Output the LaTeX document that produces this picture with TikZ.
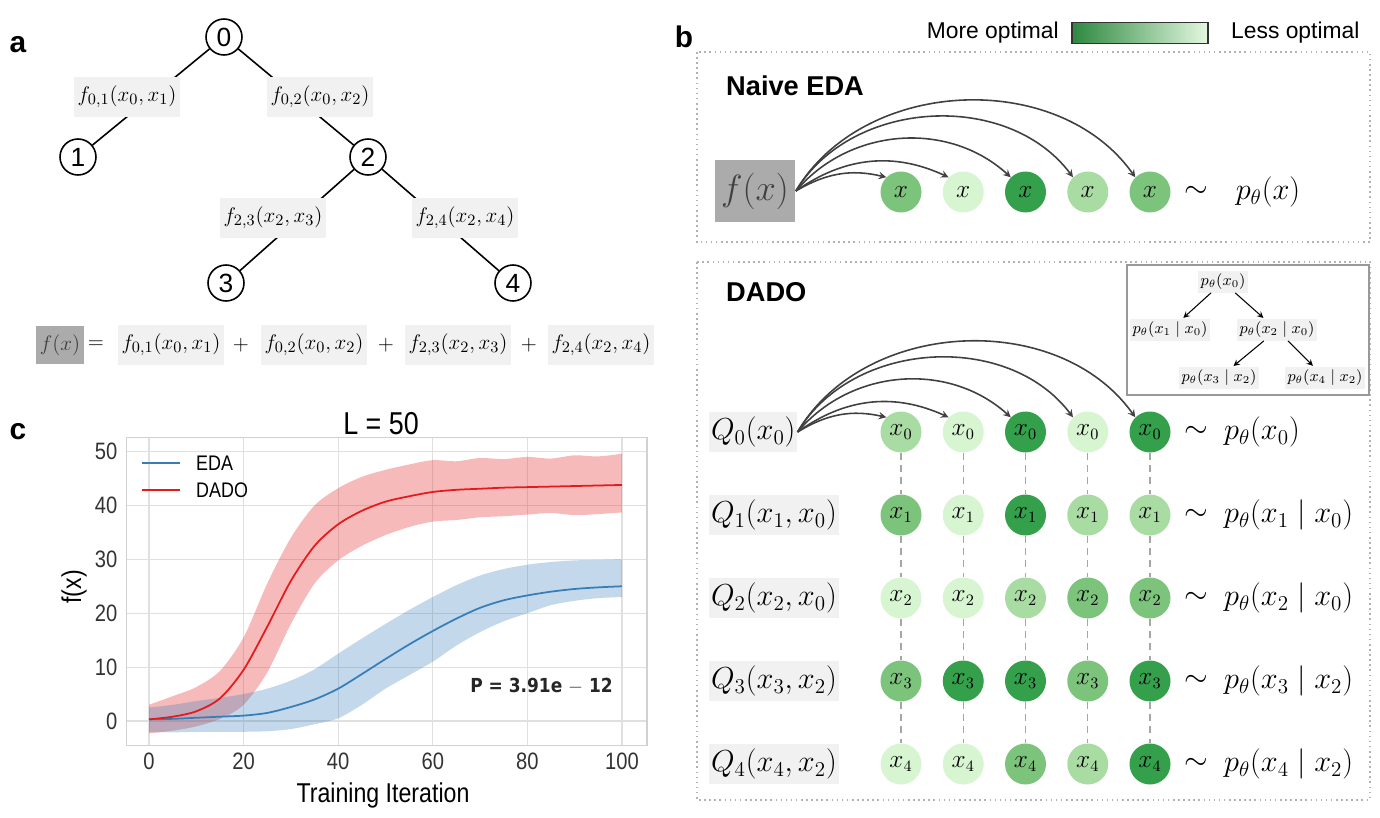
\documentclass[tikz,border=0pt]{standalone}
\usepackage{amsmath}
\usepackage{fontspec}
\setsansfont{Liberation Sans}
\newfontfamily\plotfont[FakeStretch=0.85]{Liberation Sans}
\newfontfamily\pvalfont[FakeStretch=0.88]{DejaVu Sans}
\usetikzlibrary{arrows,positioning,calc,shapes.geometric}

\definecolor{gA}{HTML}{D7F5D1}
\definecolor{gB}{HTML}{A9DCA3}
\definecolor{gC}{HTML}{7CC37C}
\definecolor{gD}{HTML}{35A04B}
\definecolor{lblgray}{HTML}{F1F1F1}
\definecolor{boxgray}{HTML}{ABABAB}
\definecolor{dadored}{HTML}{E41A1C}
\definecolor{edablue}{HTML}{377EB8}

\newcommand{\fsz}[1]{\fontsize{#1}{#1}\selectfont}

\begin{document}
\begin{tikzpicture}[x=0.02cm, y=-0.02cm, > = stealth, font=\sffamily]
    % Estilos
    \tikzstyle{vertex}=[circle, draw, line width=0.9pt, inner sep=0pt, minimum size=0.72cm, font=\sffamily\fsz{15}]
    \tikzstyle{factor}=[fill=lblgray, inner xsep=2pt, inner ysep=5pt, font=\fsz{13}]
    \tikzstyle{fbox}=[fill=boxgray, text=black!75]
    \tikzstyle{smp}=[circle, inner sep=0pt, minimum size=0.82cm, font=\fsz{13.5}]
    \tikzstyle{qlab}=[fill=lblgray, inner xsep=1pt, inner ysep=3pt, font=\fsz{17.5}]
    \tikzstyle{plab}=[font=\fsz{17.5}]
    \tikzstyle{cond}=[fill=lblgray, inner sep=1.5pt, font=\fsz{9}]
    \tikzstyle{arr}=[->, black!75, line width=0.9pt]
    \tikzstyle{vline}=[black!35, dash pattern=on 4pt off 3pt, line width=0.8pt]
    \tikzstyle{panel}=[font=\sffamily\bfseries\fsz{17}]
    \tikzstyle{dotbox}=[gray!60, dotted, line width=0.9pt]
    \tikzstyle{tick}=[font=\plotfont\fsz{13.5}, text=black!80]

    \useasboundingbox (0,0) rectangle (1380,818);

    % Painel a
    \node[panel] (la) at (18,45) {a};
    \node[vertex] (t0) at (224,37) {0};
    \node[vertex] (t1) at (78,157) {1};
    \node[vertex] (t2) at (368,157) {2};
    \node[vertex] (t3) at (226,283) {3};
    \node[vertex] (t4) at (513,283) {4};

    \draw[line width=0.9pt] (t0) -- (t1);
    \draw[line width=0.9pt] (t0) -- (t2);
    \draw[line width=0.9pt] (t2) -- (t3);
    \draw[line width=0.9pt] (t2) -- (t4);

    \node[factor] (f01) at (127,97) {$f_{0,1}(x_0,x_1)$};
    \node[factor] (f02) at (320,97) {$f_{0,2}(x_0,x_2)$};
    \node[factor] (f23) at (273,218) {$f_{2,3}(x_2,x_3)$};
    \node[factor] (f24) at (465,218) {$f_{2,4}(x_2,x_4)$};

    % Soma
    \node[factor, fbox] (fx) at (60,345) {$f(x)$};
    \node[font=\fsz{13}] (eq) at (96,345) {$=$};
    \node[factor] (g01) at (171,345) {$f_{0,1}(x_0,x_1)$};
    \node[font=\fsz{13}] (pl1) at (241,345) {$+$};
    \node[factor] (g02) at (314,345) {$f_{0,2}(x_0,x_2)$};
    \node[font=\fsz{13}] (pl2) at (386,345) {$+$};
    \node[factor] (g23) at (458,345) {$f_{2,3}(x_2,x_3)$};
    \node[font=\fsz{13}] (pl3) at (529,345) {$+$};
    \node[factor] (g24) at (601,345) {$f_{2,4}(x_2,x_4)$};

    % Painel c
    \node[panel] (lc) at (18,432) {c};
    \node[font=\plotfont\fsz{18}] (ttl) at (381,424) {L = 50};
    \begin{scope}[shift={(149,721)}, x=0.0946cm, y=0.1078cm]
        \foreach \gx in {0,20,...,100} \draw[black!12, line width=0.7pt] (\gx,-4.6) -- (\gx,52.6);
        \foreach \gy in {0,10,...,50} \draw[black!12, line width=0.7pt] (-4.7,\gy) -- (105.3,\gy);
        \draw[black!18, line width=0.7pt] (-4.7,-4.6) rectangle (105.3,52.6);

        \fill[dadored, fill opacity=0.3] plot[smooth] coordinates {(0,3) (5,4.6) (10,6.3) (15,9.3) (20,15.5) (25,25.5) (30,34) (35,40) (40,43.2) (45,45.3) (50,46.6) (55,47.6) (60,48.4) (65,48.2) (70,48.8) (75,48.6) (80,49) (85,48.7) (90,49.3) (95,49.1) (100,49.6)}
            -- plot[smooth] coordinates {(100,38.7) (95,38.4) (90,38.2) (85,38.6) (80,38.3) (75,38) (70,37.8) (65,37.3) (60,37) (55,36) (50,34.5) (45,32.5) (40,29.8) (35,25.5) (30,18) (25,9) (20,3) (15,0.4) (10,-1) (5,-1.8) (0,-2.3)} -- cycle;
        \fill[edablue, fill opacity=0.3] plot[smooth] coordinates {(0,2.5) (5,3) (10,3.7) (15,4.3) (20,5) (25,6) (30,7.5) (35,9.6) (40,12.5) (45,15.3) (50,18) (55,20.6) (60,23) (65,25.2) (70,27) (75,28.2) (80,29) (85,29.5) (90,29.8) (95,29.9) (100,30)}
            -- plot[smooth] coordinates {(100,23) (95,22.8) (90,22.3) (85,21.5) (80,20) (75,18.5) (70,16.5) (65,14) (60,11) (55,8.5) (50,6) (45,3) (40,0.5) (35,-0.6) (30,-1.5) (25,-1.9) (20,-2) (15,-2) (10,-2) (5,-2.1) (0,-2)} -- cycle;
        \draw[edablue, line width=1pt] plot[smooth] coordinates {(0,0.3) (5,0.4) (10,0.6) (15,0.8) (20,1) (25,1.5) (30,2.6) (35,4) (40,6) (45,8.7) (50,11.5) (55,14.2) (60,16.7) (65,19) (70,21) (75,22.4) (80,23.3) (85,24) (90,24.5) (95,24.8) (100,25)};
        \draw[dadored, line width=1pt] plot[smooth] coordinates {(0,0.3) (5,0.8) (10,1.8) (15,4.2) (20,9.5) (25,17.5) (30,26) (35,32.5) (40,36.5) (45,39) (50,40.7) (55,41.7) (60,42.5) (65,42.9) (70,43.1) (75,43.3) (80,43.4) (85,43.5) (90,43.6) (95,43.7) (100,43.8)};

        \foreach \gx in {0,20,...,100} \node[tick] (xt\gx) at (\gx,-7.4) {\gx};
        \foreach \gy in {0,10,...,50} \node[tick, anchor=east] (yt\gy) at (-5.4,\gy) {\gy};
    \end{scope}
    \node[font=\plotfont\fsz{15.5}] (xlab) at (383,795) {Training Iteration};
    \node[font=\plotfont\fsz{15.5}, rotate=90] (ylab) at (74,587) {f(x)};
    \draw[edablue, line width=1pt] (142,463) -- (180,463);
    \node[font=\plotfont\fsz{12}, anchor=west] (leda) at (190,463) {EDA};
    \draw[dadored, line width=1pt] (142,490) -- (180,490);
    \node[font=\plotfont\fsz{12}, anchor=west] (ldado) at (190,490) {DADO};
    \node[font=\pvalfont\bfseries\fsz{11}, text=black!85, anchor=east] (pval) at (619,686) {P = 3.91e $-$ 12};

    % Painel b
    \node[panel] (lb) at (684,37) {b};
    \node[font=\sffamily\fsz{13}, anchor=east] (more) at (1065,33) {More optimal};
    \node[draw=black!80, line width=0.6pt, minimum width=2.72cm, minimum height=0.42cm, left color=gD!85!black, right color=gA!70!white] (bar) at (1140,33) {};
    \node[font=\sffamily\fsz{13}, anchor=west] (less) at (1225,33) {Less optimal};

    % Naive EDA
    \draw[dotbox] (697,52) rectangle (1370,242);
    \node[font=\sffamily\bfseries\fsz{15.5}, anchor=west] (naive) at (720,86) {Naive EDA};
    \node[fbox, minimum width=1.62cm, minimum height=1.24cm, font=\fsz{20}] (fx2) at (755,191) {$f(x)$};
    \foreach \c/\col in {1/gC,2/gA,3/gD,4/gB,5/gC}
        \node[smp, fill=\col] (e\c) at ({838.75+62.25*\c},192) {$x$};
    \node[plab] (tl) at (1196,192) {$\sim$};
    \node[plab] (pn) at (1268,192) {$p_\theta(x)$};
    \foreach \i/\b in {1/22,2/30,3/46,4/56,5/57}
        \draw[arr] (fx2.east) to[bend left=\b] (e\i.north west);

    % DADO
    \draw[dotbox] (697,262) rectangle (1370,800);
    \node[font=\sffamily\bfseries\fsz{15.5}, anchor=west] (dado) at (720,292) {DADO};

    \draw[gray!80, line width=0.8pt] (1127,265) rectangle (1369,395);
    \node[cond] (c0) at (1223,282) {$p_\theta(x_0)$};
    \node[cond] (c1) at (1170,330) {$p_\theta(x_1 \mid x_0)$};
    \node[cond] (c2) at (1277,330) {$p_\theta(x_2 \mid x_0)$};
    \node[cond] (c3) at (1219,378) {$p_\theta(x_3 \mid x_2)$};
    \node[cond] (c4) at (1325,378) {$p_\theta(x_4 \mid x_2)$};
    \draw[->, line width=0.6pt, shorten >=1pt] (c0) -- (c1);
    \draw[->, line width=0.6pt, shorten >=1pt] (c0) -- (c2);
    \draw[->, line width=0.6pt, shorten >=1pt] (c2) -- (c3);
    \draw[->, line width=0.6pt, shorten >=1pt] (c2) -- (c4);

    \foreach \r/\yy/\cols in {0/432/{gB,gA,gD,gA,gD}, 1/515/{gC,gA,gD,gB,gB}, 2/598/{gA,gA,gB,gC,gC}, 3/681/{gC,gD,gD,gC,gD}, 4/764/{gA,gA,gC,gB,gD}}
        \foreach \col [count=\c] in \cols
            \node[smp, fill=\col] (d\r\c) at ({838.75+62.25*\c},\yy) {$x_\r$};

    \foreach \c in {1,...,5}
        \foreach \r/\rn in {0/1,1/2,2/3,3/4}
            \draw[vline] (d\r\c) -- (d\rn\c);

    \node[qlab, anchor=west] (q0) at (709,432) {$Q_0(x_0)$};
    \node[qlab, anchor=west] (q1) at (709,515) {$Q_1(x_1,x_0)$};
    \node[qlab, anchor=west] (q2) at (709,598) {$Q_2(x_2,x_0)$};
    \node[qlab, anchor=west] (q3) at (709,681) {$Q_3(x_3,x_2)$};
    \node[qlab, anchor=west] (q4) at (709,764) {$Q_4(x_4,x_2)$};

    \foreach \r/\yy in {0/432,1/515,2/598,3/681,4/764}
        \node[plab] (s\r) at (1196,\yy) {$\sim$};
    \node[plab, anchor=west] (r0) at (1218,432) {$p_\theta(x_0)$};
    \node[plab, anchor=west] (r1) at (1218,515) {$p_\theta(x_1 \mid x_0)$};
    \node[plab, anchor=west] (r2) at (1218,598) {$p_\theta(x_2 \mid x_0)$};
    \node[plab, anchor=west] (r3) at (1218,681) {$p_\theta(x_3 \mid x_2)$};
    \node[plab, anchor=west] (r4) at (1218,764) {$p_\theta(x_4 \mid x_2)$};

    \foreach \i/\b in {1/22,2/30,3/46,4/56,5/57}
        \draw[arr] (q0.east) to[bend left=\b] (d0\i.north west);
\end{tikzpicture}
\end{document}
